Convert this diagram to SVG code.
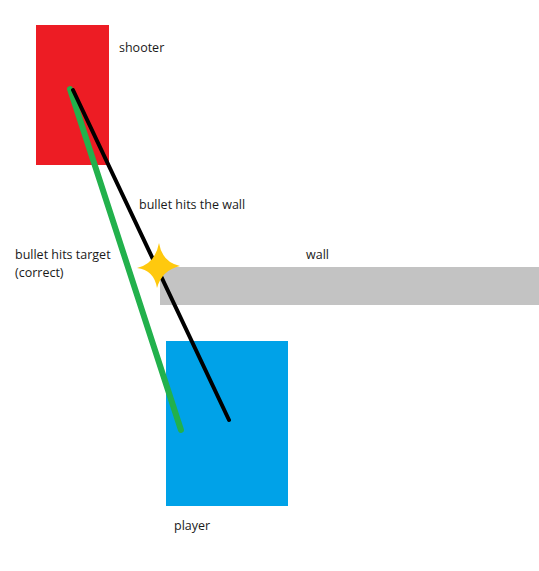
<svg xmlns="http://www.w3.org/2000/svg" width="539" height="571" viewBox="0 0 539 571">
<style>
text{font-family:"Open Sans","Noto Sans","Liberation Sans",sans-serif;font-size:12.5px;fill:#1a1a1a}
</style>
<rect width="539" height="571" fill="#fff"/>
<g id="shooter"><rect x="36" y="25" width="73" height="140" fill="#ed1c24"/><text x="119" y="52">shooter</text></g>
<g id="wall"><rect x="160" y="267" width="379" height="38" fill="#c3c3c3"/><text x="306" y="259">wall</text></g>
<g id="player"><rect x="166" y="341" width="122" height="165" fill="#00a2e8"/><text x="174" y="530">player</text></g>
<g id="connectors">
<line x1="70" y1="89" x2="181" y2="430" stroke="#22b14c" stroke-width="6" stroke-linecap="round"/>
<line x1="73" y1="90" x2="229" y2="420" stroke="#000" stroke-width="4" stroke-linecap="round"/>
</g>
<g id="impact"><path d="M159 243 Q162 262 180 266 Q162 270 157 288 Q154 270 137 268 Q155 264 159 243 Z" fill="#ffc90e"/></g>
<g id="labels">
<text x="139" y="209">bullet hits the wall</text>
<text x="15" y="259">bullet hits target</text>
<text x="15" y="277">(correct)</text>
</g>
</svg>
